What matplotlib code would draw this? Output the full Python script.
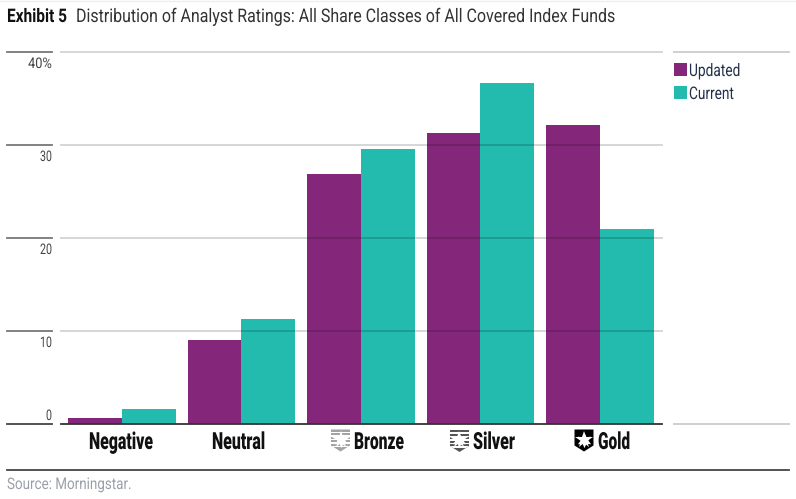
import matplotlib
matplotlib.use('Agg')
import matplotlib.pyplot as plt
from matplotlib.lines import Line2D
from matplotlib.patches import Polygon, Rectangle
from matplotlib.patheffects import AbstractPathEffect
from matplotlib.transforms import Affine2D
import numpy as np

categories = ['Negative', 'Neutral', 'Bronze', 'Silver', 'Gold']
updated = [0.6, 9.0, 26.9, 31.3, 32.2]
current = [1.6, 11.3, 29.6, 36.7, 21.0]
y_ticks = [0, 10, 20, 30, 40]
y_labels = ['0', '10', '20', '30', '40%']

PURPLE = '#84277a'
TEAL = '#22bbad'
W, H = 796, 499

plt.rcParams['font.family'] = ['Roboto', 'DejaVu Sans']
fig = plt.figure(figsize=(W / 100, H / 100), dpi=100)
renderer = fig.canvas.get_renderer()


# no condensed font installed, so squeeze the glyphs sideways when drawing
class Squeeze(AbstractPathEffect):
    def __init__(self, sx):
        super().__init__()
        self.sx = sx

    def draw_path(self, renderer, gc, tpath, affine, rgbFace=None):
        renderer.draw_path(gc, tpath, Affine2D().scale(self.sx, 1) + affine, rgbFace)


def fx(px):
    return px / W


def fy(py):
    return 1 - py / H


def hline(x0, x1, py, color, lw=1.3):
    fig.add_artist(Line2D([fx(x0), fx(x1)], [fy(py), fy(py)], color=color, lw=lw))


def label(left, baseline, s, width, right=False, **kw):
    # left/baseline in image pixels, width = wanted pixel width of the text
    t = fig.text(fx(left), fy(baseline), s, ha='left', va='baseline', **kw)
    measured = t.get_window_extent(renderer).width
    t.set_path_effects([Squeeze(width / measured)])
    if right:
        t.set_x(fx(left - width))
    return t


# plot area in pixels: x 61-662, y 52-424
ax = fig.add_axes([fx(61), fy(424), fx(601), (424 - 52) / H])
for s in ax.spines.values():
    s.set_visible(False)
ax.set_xlim(-0.51, 4.52)
ax.set_ylim(0, 40)
ax.set_yticks([])
ax.set_xticks([])

x = np.arange(len(categories))
w = 0.45
ax.bar(x - w / 2, updated, w, color=PURPLE, zorder=2)
ax.bar(x + w / 2, current, w, color=TEAL, zorder=2)

# gridlines sit over the bars, semi transparent
for v in y_ticks[1:]:
    ax.axhline(v, color='black', alpha=0.16, lw=1.4, zorder=3, clip_on=False)
ax.axhline(0, color='#333333', lw=1.3, zorder=4, clip_on=False)

# stubs + labels on the left
trans = ax.get_yaxis_transform()
tick_widths = [6, 12, 12, 12, 24]
for v, lab, tw in zip(y_ticks, y_labels, tick_widths):
    stub = '#444444' if v == 0 else '#777777'
    ax.plot([(7 - 61) / 601, (52 - 61) / 601], [v, v], transform=trans,
            color=stub, lw=1.3, clip_on=False)
    line_y = H - ax.transData.transform((0, v))[1]
    base = line_y - 4 if v == 0 else line_y + 16
    label(52, base, lab, tw, right=True, fontsize=10.5, color='#444444')

# category labels
label_left = [89, 212, 354, 473, 598]
label_width = [64, 53, 50, 42, 32]
for i, c in enumerate(categories):
    label(label_left[i], 449, c, label_width[i], fontsize=17, fontweight=900, color='#111111')


def badge(cx, cy, color, stripes):
    pts = [(-9.5, -11), (9.5, -11), (9.5, 5), (0, 11), (-9.5, 5)]
    poly = [(fx(cx + a), fy(cy + b)) for a, b in pts]
    shield = Polygon(poly, closed=True, transform=fig.transFigure, facecolor=color, edgecolor='none')
    fig.add_artist(shield)
    if stripes:
        for dy in (-7.5, -4, -0.5, 3, 6.5):
            r = Rectangle((fx(cx - 10), fy(cy + dy)), 20 / W, 1.4 / H,
                          transform=fig.transFigure, facecolor='white', edgecolor='none')
            fig.add_artist(r)
            r.set_clip_path(shield)
    fig.add_artist(Line2D([fx(cx)], [fy(cy - 1)], marker='*', ms=13, color='white', mew=0))
    fig.add_artist(Line2D([fx(cx)], [fy(cy - 1)], marker=(6, 1, 0), ms=11, color='white', mew=0))


badge(340.5, 440.5, '#a3a3a3', True)
badge(459.5, 441, '#555555', True)
badge(584, 440.5, '#000000', False)

# right side rules and legend
hline(674, 789, 52, '#cfcfcf', 1.4)
hline(674, 789, 424, '#cfcfcf', 1.4)
legend_names = ['Updated', 'Current']
legend_colors = [PURPLE, TEAL]
legend_widths = [51, 45]
for i, (name, col) in enumerate(zip(legend_names, legend_colors)):
    base = 76 + 23 * i
    fig.add_artist(Rectangle((fx(673.5), fy(base)), 13.5 / W, 13 / H, transform=fig.transFigure,
                             facecolor=col, edgecolor='none'))
    label(689, base, name, legend_widths[i], fontsize=12.5, color='#22304a')

# title
label(7, 22, 'Exhibit 5', 60, fontsize=13.5, fontweight='bold', color='#111111')
label(76, 22, 'Distribution of Analyst Ratings: All Share Classes of All Covered Index Funds', 539,
      fontsize=13.5, color='#333333')

# footer
hline(0, 796, 0.5, '#eeeeee', 1)
hline(7, 789, 470, '#444444')
label(7, 489, 'Source: Morningstar.', 125, fontsize=11.5, color='#9a9fa8')

fig.savefig('out.png', dpi=100)
